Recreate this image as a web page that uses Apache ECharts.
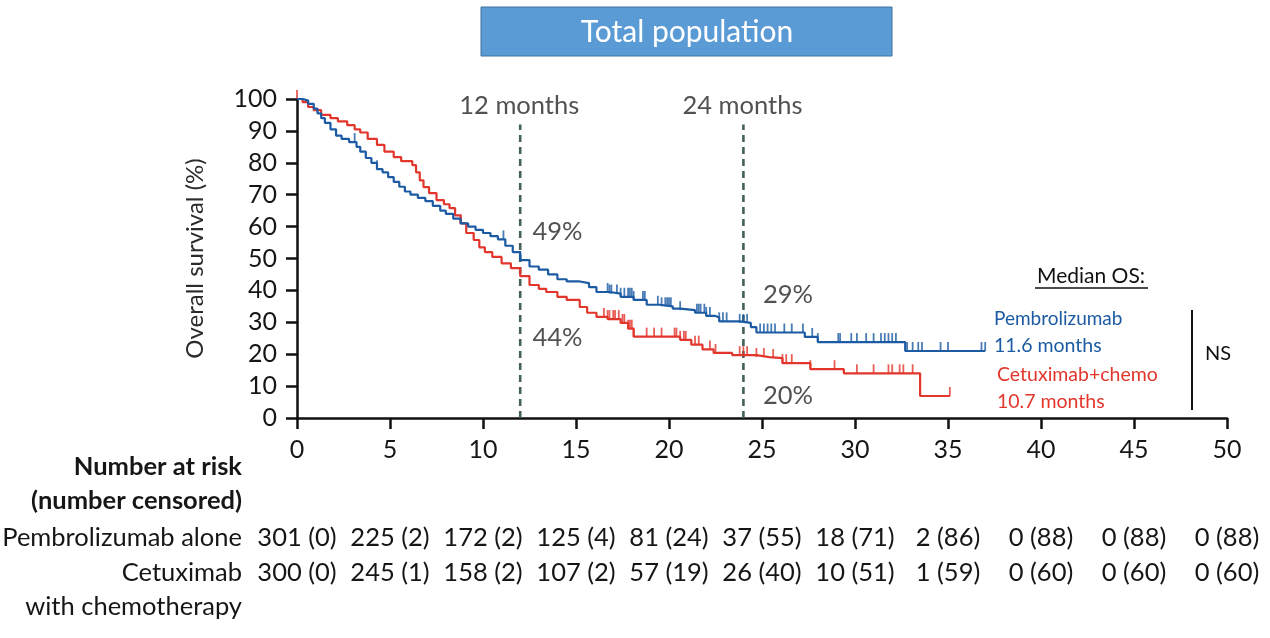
<!DOCTYPE html>
<html>
<head>
<meta charset="utf-8">
<script src="https://cdn.jsdelivr.net/npm/echarts@6/dist/echarts.min.js"></script>
<style>
html,body{margin:0;padding:0;background:#fff;}
#chart{width:1270px;height:638px;}
</style>
</head>
<body>
<div id="chart"></div>
<script>
// ---- Data ----
const xTicks = [0,5,10,15,20,25,30,35,40,45,50];

// Kaplan-Meier curves: [months, overall survival %]
const pembroCurve = [
  [0,100],[0.3,99.5],[0.6,98.5],[0.9,97],[1.1,95.5],[1.3,94],[1.5,92.5],[1.8,90.5],[2.1,88.5],[2.4,87.5],
  [2.8,86.5],[3.2,85],[3.4,83.5],[3.7,81.5],[4.0,80],[4.3,78],[4.6,77],[4.9,75.5],[5.2,74],[5.5,72.5],
  [5.8,71],[6.1,70],[6.5,69],[6.9,68],[7.3,66.5],[7.7,65],[8.0,64],[8.4,62.5],[8.8,61],[9.2,60],
  [9.6,59],[10.0,58],[10.4,57],[10.8,56],[11.2,54],[11.6,52],[12.0,49.5],[12.5,47.5],[13.0,46.5],[13.5,45],
  [14.0,43.5],[14.5,42.8],[15.2,42.3],[15.7,41],[16.1,39.5],[16.8,39],[17.4,38],[18.1,37],[18.8,35.5],[19.5,35],
  [20.2,34.3],[20.6,33.8],[21.4,33],[22.0,32],[22.5,31.5],[22.7,30.3],[23.8,29.8],[24.4,28.5],[24.7,26.8],[27.3,25.4],
  [28.0,23.8],[32.7,21],[37.0,21]
];
const cetuxCurve = [
  [0,100],[0.3,99],[0.6,97.5],[0.9,96.5],[1.3,95],[1.8,94],[2.2,93],[2.7,91.8],[3.1,90.5],[3.4,89.5],
  [3.8,87.5],[4.3,85.6],[4.7,83.5],[5.2,81.8],[5.6,80.5],[6.2,79.3],[6.4,77],[6.6,74.5],[6.8,72.4],[7.1,70.5],
  [7.5,68.3],[7.9,67],[8.2,65.8],[8.5,63.5],[8.8,61],[9.1,58],[9.5,55.8],[9.8,53.5],[10.1,52],[10.5,50.5],
  [11.0,48.5],[11.5,47],[12.0,44.5],[12.5,41.7],[13.0,40.5],[13.4,39.5],[14.0,38],[14.5,37],[15.2,34.8],[15.6,33],
  [16.1,31.7],[16.7,31],[17.4,29.8],[17.8,28],[18.1,25.5],[20.6,24.5],[21.2,23],[21.8,21.5],[22.4,20.4],[23.4,19.7],
  [24.7,19.1],[25.4,18.8],[26.1,17.2],[27.6,15.3],[29.4,14],[33.5,6.9],[35.1,6.9]
];

// Censoring times (months)
const pembroCensor = [3.1,4.3,11.1,12.0,16.7,16.8,16.9,17.2,17.4,17.6,17.8,17.9,18.0,18.1,18.6,18.7,19.4,19.6,19.8,19.9,
  20.0,20.1,20.6,21.5,21.6,21.7,21.9,22.0,22.2,22.7,22.9,23.1,23.8,24.0,24.2,24.9,25.1,25.3,25.5,25.7,26.2,26.6,27.2,
  27.7,28.0,29.1,29.2,29.8,30.1,30.6,31.0,31.4,31.6,31.8,32.0,32.2,32.8,33.1,33.4,33.6,34.6,35.0,36.8,37.0];
const cetuxCensor = [0,8.8,16.5,16.7,16.8,17.0,17.1,17.3,17.5,17.6,17.8,17.9,18.0,18.1,18.8,19.2,19.6,20.3,20.4,20.6,
  20.8,20.9,21.4,21.6,22.2,22.5,23.8,24.0,24.2,24.7,25.1,25.6,26.1,26.3,26.6,27.6,28.9,30.1,31.0,31.8,32.0,32.4,32.6,
  33.1,35.1];

// Number at risk (number censored)
const pembroAtRisk   = [301,225,172,125,81,37,18,2,0,0,0];
const pembroCensored = [0,2,2,4,24,55,71,86,88,88,88];
const cetuxAtRisk    = [300,245,158,107,57,26,10,1,0,0,0];
const cetuxCensored  = [0,1,2,2,19,40,51,59,60,60,60];

// Landmark annotations
const landmarkMonths = [12,24];
const landmarkLabels = ['12 months','24 months'];
const pembroLandmarkPct = ['49%','29%'];
const cetuxLandmarkPct  = ['44%','20%'];

// ---- Chart ----
const BLUE = '#1c5ba3';
const RED = '#e2362c';
const DASH = '#44615a';
const FONT = 'Lato';
const TXT = '#161616';

function survivalAt(curve, t){
  let v = curve[0][1];
  for (const p of curve){ if (p[0] <= t) v = p[1]; else break; }
  return v;
}

const chart = echarts.init(document.getElementById('chart'), null, {renderer:'canvas'});

function riskAxis(atRisk, cens, offset){
  return {
    type:'value', gridIndex:0, position:'bottom', offset: offset,
    min:0, max:50, interval:5,
    axisLine:{show:false}, axisTick:{show:false}, splitLine:{show:false},
    axisLabel:{
      show:true, margin:7, fontFamily:FONT, fontSize:25.5, color:TXT,
      showMinLabel:true, showMaxLabel:true,
      formatter: v => { const i = xTicks.indexOf(v); return i < 0 ? '' : atRisk[i] + ' (' + cens[i] + ')'; }
    }
  };
}

const annotData = [];
landmarkMonths.forEach((m,i)=>{
  annotData.push({value:[m - 0.05, 97.8], name: landmarkLabels[i]});
});
annotData.push({value:[14.0, 58.3], name: pembroLandmarkPct[0]});
annotData.push({value:[14.0, 25.1], name: cetuxLandmarkPct[0]});
annotData.push({value:[26.4, 38.6], name: pembroLandmarkPct[1]});
annotData.push({value:[26.4, 6.9],  name: cetuxLandmarkPct[1]});

const dashSeries = landmarkMonths.map(m => ({
  type:'line', xAxisIndex:0, yAxisIndex:0, silent:true, symbol:'none',
  data:[[m,0],[m,92]],
  lineStyle:{color:DASH, width:2.6, type:[7,5]},
  z:1
}));

const option = {
  animation:false,
  backgroundColor:'#ffffff',
  grid:{left:297, right:43, top:99, bottom:220, containLabel:false},
  xAxis:[
    {
      type:'value', min:0, max:50, interval:5, position:'bottom',
      axisLine:{show:true, onZero:false, lineStyle:{color:'#111', width:2.5}},
      axisTick:{show:true, length:11, lineStyle:{color:'#111', width:2.5}},
      splitLine:{show:false},
      axisLabel:{margin:19, fontFamily:FONT, fontSize:25, color:TXT, showMinLabel:true, showMaxLabel:true}
    },
    riskAxis(pembroAtRisk, pembroCensored, 100),
    riskAxis(cetuxAtRisk, cetuxCensored, 135)
  ],
  yAxis:{
    type:'value', min:0, max:100, interval:10,
    name:'Overall survival (%)', nameLocation:'middle', nameGap:90, nameRotate:90,
    nameTextStyle:{fontFamily:FONT, fontSize:24, color:'#2b2b2b'},
    axisLine:{show:true, lineStyle:{color:'#111', width:2.5}},
    axisTick:{show:true, length:11, lineStyle:{color:'#111', width:2.5}},
    splitLine:{show:false},
    axisLabel:{margin:20, fontFamily:FONT, fontSize:25, color:TXT}
  },
  series:[
    ...dashSeries,
    {
      name:'Pembrolizumab', type:'line', step:'end', symbol:'none',
      data: pembroCurve, lineStyle:{color:BLUE, width:2.2}, z:3
    },
    {
      name:'Cetuximab+chemo', type:'line', step:'end', symbol:'none',
      data: cetuxCurve, lineStyle:{color:RED, width:2.2}, z:2
    },
    {
      type:'scatter', symbol:'rect', symbolSize:[1.8,9], symbolOffset:[0,-4.5],
      itemStyle:{color:BLUE}, z:3,
      data: pembroCensor.map(t => [t, survivalAt(pembroCurve, t)])
    },
    {
      type:'scatter', symbol:'rect', symbolSize:[1.8,9], symbolOffset:[0,-4.5],
      itemStyle:{color:RED}, z:2,
      data: cetuxCensor.map(t => [t, survivalAt(cetuxCurve, t)])
    },
    {
      type:'scatter', symbolSize:0, silent:true, z:5,
      data: annotData,
      label:{show:true, position:'inside', formatter: p => p.name,
        fontFamily:FONT, fontSize:25.5, color:'#262626'}
    }
  ],
  graphic:[
    {type:'rect', shape:{x:481, y:7, width:411, height:49},
      style:{fill:'#5b9bd5', stroke:'#41719c', lineWidth:1}},
    {type:'text', x:687, y:32, style:{text:'Total population', fill:'#ffffff',
      font:'30px Lato', textAlign:'center', textVerticalAlign:'middle'}},

    {type:'text', x:1091, y:276, style:{text:'Median OS:', fill:'#111', font:'21px Lato',
      textAlign:'center', textVerticalAlign:'middle'}},
    {type:'line', shape:{x1:1035, y1:288, x2:1148, y2:288}, style:{stroke:'#111', lineWidth:1.5}},
    {type:'text', x:994, y:319, style:{text:'Pembrolizumab', fill:BLUE, font:'19px Lato', textVerticalAlign:'middle'}},
    {type:'text', x:994, y:346, style:{text:'11.6 months', fill:BLUE, font:'19.5px Lato', textVerticalAlign:'middle'}},
    {type:'text', x:997, y:375, style:{text:'Cetuximab+chemo', fill:RED, font:'19.5px Lato', textVerticalAlign:'middle'}},
    {type:'text', x:997, y:402, style:{text:'10.7 months', fill:RED, font:'19.5px Lato', textVerticalAlign:'middle'}},
    {type:'line', shape:{x1:1192, y1:310, x2:1192, y2:410}, style:{stroke:'#111', lineWidth:2}},
    {type:'text', x:1205, y:354, style:{text:'NS', fill:'#111', font:'20px Lato', textVerticalAlign:'middle'}},

    {type:'text', x:242, y:467, style:{text:'Number at risk', fill:TXT, font:'bold 25.5px Lato',
      textAlign:'right', textVerticalAlign:'middle'}},
    {type:'text', x:242, y:501, style:{text:'(number censored)', fill:TXT, font:'bold 25.5px Lato',
      textAlign:'right', textVerticalAlign:'middle'}},
    {type:'text', x:242, y:538, style:{text:'Pembrolizumab alone', fill:TXT, font:'25.5px Lato',
      textAlign:'right', textVerticalAlign:'middle'}},
    {type:'text', x:242, y:573, style:{text:'Cetuximab', fill:TXT, font:'25.5px Lato',
      textAlign:'right', textVerticalAlign:'middle'}},
    {type:'text', x:242, y:607, style:{text:'with chemotherapy', fill:TXT, font:'25.5px Lato',
      textAlign:'right', textVerticalAlign:'middle'}}
  ]
};
chart.setOption(option);
</script>
</body>
</html>
